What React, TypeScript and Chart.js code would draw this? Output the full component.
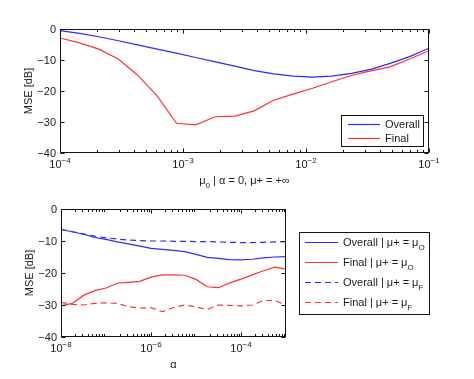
import React, { useEffect, useRef } from "react";
import { Chart, registerables } from "chart.js";

Chart.register(...registerables);

// ---------- data ----------
const topMu0 = [1.0e-4, 1.44e-4, 2.07e-4, 2.98e-4, 4.28e-4, 6.16e-4, 8.86e-4, 1.27e-3, 1.83e-3, 2.64e-3, 3.79e-3, 5.46e-3, 7.85e-3, 1.13e-2, 1.62e-2, 2.34e-2, 3.36e-2, 4.83e-2, 6.95e-2, 1.0e-1];
const topOverall = [-0.5, -1.4, -2.5, -3.8, -5.1, -6.5, -7.8, -9.2, -10.6, -12.0, -13.4, -14.5, -15.2, -15.5, -15.2, -14.3, -13.0, -11.1, -8.9, -6.2];
const topFinal = [-2.9, -4.5, -6.5, -9.7, -14.9, -21.6, -30.4, -30.9, -28.3, -28.1, -26.4, -23.0, -21.0, -19.1, -17.0, -15.0, -13.5, -12.2, -9.7, -7.0];

const botAlpha = [1e-8, 1.78e-8, 3.16e-8, 5.62e-8, 1e-7, 1.78e-7, 3.16e-7, 5.62e-7, 1e-6, 1.78e-6, 3.16e-6, 5.62e-6, 1e-5, 1.78e-5, 3.16e-5, 5.62e-5, 1e-4, 1.78e-4, 3.16e-4, 5.62e-4, 1e-3];
const botOverallO = [-6.4, -7.1, -7.9, -8.9, -9.5, -10.3, -10.9, -11.6, -12.3, -12.6, -12.9, -13.3, -14.2, -15.1, -15.4, -15.8, -15.9, -15.7, -15.3, -15.0, -14.9];
const botFinalO = [-30.3, -29.5, -27.0, -25.5, -24.7, -23.2, -22.9, -22.6, -21.3, -20.6, -20.6, -20.7, -22.0, -24.3, -24.6, -23.1, -21.9, -20.6, -19.3, -18.2, -18.8];
const botOverallF = [-6.4, -7.1, -7.8, -8.5, -9.0, -9.4, -9.7, -9.9, -10.0, -10.0, -10.1, -10.1, -10.2, -10.2, -10.3, -10.4, -10.5, -10.5, -10.4, -10.3, -10.2];
const botFinalF = [-29.2, -29.8, -30.0, -29.5, -29.3, -29.5, -30.5, -31.0, -30.8, -32.1, -30.8, -30.0, -30.6, -31.4, -30.0, -30.1, -30.3, -30.0, -28.6, -28.6, -30.0];

const yTicks = [0, -10, -20, -30, -40];
const topXTicks = [1e-4, 1e-3, 1e-2, 1e-1];
const topXExps = ["-4", "-3", "-2", "-1"];
const botXTicks = [1e-8, 1e-6, 1e-4];
const botXExps = ["-8", "-6", "-4"];

const topLegend = [
  { label: [{ t: "Overall" }], color: "blue", dash: false },
  { label: [{ t: "Final" }], color: "red", dash: false },
];
const botLegend = [
  { label: [{ t: "Overall | \u03bc+ = \u03bc" }, { t: "O", sub: true }], color: "blue", dash: false },
  { label: [{ t: "Final | \u03bc+ = \u03bc" }, { t: "O", sub: true }], color: "red", dash: false },
  { label: [{ t: "Overall | \u03bc+ = \u03bc" }, { t: "F", sub: true }], color: "blue", dash: true },
  { label: [{ t: "Final | \u03bc+ = \u03bc" }, { t: "F", sub: true }], color: "red", dash: true },
];

// ---------- styles ----------
const FONT = '"Liberation Sans", Arial, Helvetica, sans-serif';
const FS = 11;
const SUBFS = 8;
const TXT = "#1a1a1a";
const BLUE = "#2a2aff";
const RED = "#ff3030";
const DASH = [6, 4];
const colorOf = (c: string) => (c === "blue" ? BLUE : RED);

type Seg = { t: string; sub?: boolean; sup?: boolean };

function drawSegs(ctx: CanvasRenderingContext2D, segs: Seg[], x: number, y: number, align: "left" | "center") {
  ctx.textBaseline = "alphabetic";
  ctx.textAlign = "left";
  const widths = segs.map((s) => {
    ctx.font = `${s.sub || s.sup ? SUBFS : FS}px ${FONT}`;
    return ctx.measureText(s.t).width;
  });
  const total = widths.reduce((a, b) => a + b, 0);
  let cx = align === "center" ? x - total / 2 : x;
  segs.forEach((s, i) => {
    ctx.font = `${s.sub || s.sup ? SUBFS : FS}px ${FONT}`;
    const dy = s.sub ? 3.5 : s.sup ? -5 : 0;
    ctx.fillText(s.t, cx, y + dy);
    cx += widths[i];
  });
}

type Cfg = {
  xTicks: number[];
  xExps: string[];
  xTitle: Seg[];
  xTitleOffset: number;
  yTitleX: number;
  legend: { label: Seg[]; color: string; dash: boolean }[];
  legendBox: { x: number; y: number; w: number; h: number };
  legendRows: number[];
  legendLine: [number, number];
  legendText: number;
};

function makePlugin(cfg: Cfg) {
  return {
    id: "matlabAxes",
    afterDraw(chart: any) {
      const ctx: CanvasRenderingContext2D = chart.ctx;
      const { left, right, top, bottom } = chart.chartArea;
      const xs = chart.scales.x;
      const ys = chart.scales.y;
      ctx.save();
      ctx.strokeStyle = "#111";
      ctx.fillStyle = TXT;
      ctx.lineWidth = 1;
      const L = Math.round(left) + 0.5;
      const R = Math.round(right) - 0.5;
      const T = Math.round(top) + 0.5;
      const B = Math.round(bottom) - 0.5;
      ctx.strokeRect(L, T, R - L, B - T);

      // y ticks
      ctx.beginPath();
      yTicks.forEach((v) => {
        const py = Math.round(ys.getPixelForValue(v)) + 0.5;
        ctx.moveTo(L, py); ctx.lineTo(L + 4, py);
        ctx.moveTo(R, py); ctx.lineTo(R - 4, py);
      });
      // x major ticks
      cfg.xTicks.forEach((v) => {
        const px = Math.round(xs.getPixelForValue(v)) + 0.5;
        ctx.moveTo(px, B); ctx.lineTo(px, B - 4);
        ctx.moveTo(px, T); ctx.lineTo(px, T + 4);
      });
      // x minor ticks
      const minE = Math.floor(Math.log10(xs.min));
      const maxE = Math.ceil(Math.log10(xs.max));
      for (let e = minE; e < maxE; e++) {
        for (let m = 2; m <= 9; m++) {
          const v = m * Math.pow(10, e);
          if (v <= xs.min || v >= xs.max) continue;
          const px = Math.round(xs.getPixelForValue(v)) + 0.5;
          ctx.moveTo(px, B); ctx.lineTo(px, B - 2.5);
          ctx.moveTo(px, T); ctx.lineTo(px, T + 2.5);
        }
      }
      ctx.stroke();

      // y labels
      ctx.font = `${FS}px ${FONT}`;
      ctx.textAlign = "right";
      ctx.textBaseline = "middle";
      yTicks.forEach((v) => {
        const py = ys.getPixelForValue(v);
        ctx.fillText(v === 0 ? "0" : "\u2212" + Math.abs(v), left - 4, py + 0.5);
      });
      // x labels 10^e
      cfg.xTicks.forEach((v, i) => {
        const px = xs.getPixelForValue(v);
        drawSegs(ctx, [{ t: "10" }, { t: cfg.xExps[i].replace("-", "\u2212"), sup: true }], px, bottom + 15, "center");
      });
      // x title
      drawSegs(ctx, cfg.xTitle, (left + right) / 2, bottom + cfg.xTitleOffset, "center");
      // y title
      ctx.save();
      ctx.translate(cfg.yTitleX, (top + bottom) / 2);
      ctx.rotate(-Math.PI / 2);
      ctx.font = `${FS}px ${FONT}`;
      ctx.textAlign = "center";
      ctx.textBaseline = "middle";
      ctx.fillText("MSE [dB]", 0, 0);
      ctx.restore();

      // legend
      const lb = cfg.legendBox;
      ctx.fillStyle = "#fff";
      ctx.fillRect(lb.x, lb.y, lb.w, lb.h);
      ctx.strokeStyle = "#111";
      ctx.strokeRect(lb.x + 0.5, lb.y + 0.5, lb.w, lb.h);
      cfg.legend.forEach((it, i) => {
        const ry = cfg.legendRows[i];
        ctx.save();
        ctx.strokeStyle = colorOf(it.color);
        ctx.lineWidth = 1.2;
        ctx.setLineDash(it.dash ? DASH : []);
        ctx.beginPath();
        ctx.moveTo(cfg.legendLine[0], ry + 0.5);
        ctx.lineTo(cfg.legendLine[1], ry + 0.5);
        ctx.stroke();
        ctx.restore();
        ctx.fillStyle = TXT;
        drawSegs(ctx, it.label, cfg.legendText, ry + 4, "left");
      });
      ctx.restore();
    },
  };
}

function ds(label: string, xs: number[], ys: number[], color: string, dash: boolean) {
  return {
    label,
    data: xs.map((x, i) => ({ x, y: ys[i] })),
    borderColor: colorOf(color),
    backgroundColor: colorOf(color),
    borderWidth: 1.2,
    borderDash: dash ? DASH : [],
    pointRadius: 0,
    tension: 0,
    fill: false,
  };
}

function ChartBox(props: {
  width: number; height: number; top: number;
  datasets: any[]; xMin: number; xMax: number;
  yAxisW: number; xAxisH: number; padding: any; cfg: Cfg;
}) {
  const ref = useRef<HTMLCanvasElement | null>(null);
  useEffect(() => {
    if (!ref.current) return;
    const chart = new Chart(ref.current, {
      type: "line",
      data: { datasets: props.datasets },
      options: {
        animation: false,
        responsive: false,
        devicePixelRatio: 1,
        layout: { padding: props.padding },
        plugins: { legend: { display: false }, tooltip: { enabled: false }, title: { display: false } },
        scales: {
          x: {
            type: "logarithmic",
            min: props.xMin,
            max: props.xMax,
            ticks: { display: false },
            grid: { display: false },
            border: { display: false },
            afterFit: (s: any) => { s.height = props.xAxisH; },
          },
          y: {
            type: "linear",
            min: -40,
            max: 0,
            ticks: { display: false },
            grid: { display: false },
            border: { display: false },
            afterFit: (s: any) => { s.width = props.yAxisW; },
          },
        },
      } as any,
      plugins: [makePlugin(props.cfg) as any],
    });
    return () => chart.destroy();
  }, []);
  return (
    <canvas
      ref={ref}
      width={props.width}
      height={props.height}
      style={{ position: "absolute", left: 0, top: props.top, width: props.width, height: props.height }}
    />
  );
}

export default function App() {
  const topCfg: Cfg = {
    xTicks: topXTicks,
    xExps: topXExps,
    xTitle: [{ t: "\u03bc" }, { t: "0", sub: true }, { t: " | \u03b1 = 0, \u03bc+ = +\u221e" }],
    xTitleOffset: 31,
    yTitleX: 29,
    legend: topLegend,
    legendBox: { x: 341, y: 115, w: 82, h: 31 },
    legendRows: [124, 138],
    legendLine: [348, 380],
    legendText: 385,
  };
  const botCfg: Cfg = {
    xTicks: botXTicks,
    xExps: botXExps,
    xTitle: [{ t: "\u03b1" }],
    xTitleOffset: 31,
    yTitleX: 30,
    legend: botLegend,
    legendBox: { x: 299, y: 42, w: 130, h: 82 },
    legendRows: [52, 72, 92, 112],
    legendLine: [305, 338],
    legendText: 343,
  };
  return (
    <div style={{ position: "fixed", left: 0, top: 0, width: 474, height: 379, background: "#fff" }}>
      <ChartBox
        width={474} height={190} top={0}
        datasets={[ds("Overall", topMu0, topOverall, "blue", false), ds("Final", topMu0, topFinal, "red", false)]}
        xMin={1e-4} xMax={1e-1}
        yAxisW={60} xAxisH={37}
        padding={{ left: 0, right: 45, top: 29, bottom: 0 }}
        cfg={topCfg}
      />
      <ChartBox
        width={474} height={189} top={190}
        datasets={[
          ds("Overall | \u03bc+ = \u03bcO", botAlpha, botOverallO, "blue", false),
          ds("Final | \u03bc+ = \u03bcO", botAlpha, botFinalO, "red", false),
          ds("Overall | \u03bc+ = \u03bcF", botAlpha, botOverallF, "blue", true),
          ds("Final | \u03bc+ = \u03bcF", botAlpha, botFinalF, "red", true),
        ]}
        xMin={1e-8} xMax={1e-3}
        yAxisW={61} xAxisH={42}
        padding={{ left: 0, right: 188, top: 19, bottom: 0 }}
        cfg={botCfg}
      />
    </div>
  );
}
